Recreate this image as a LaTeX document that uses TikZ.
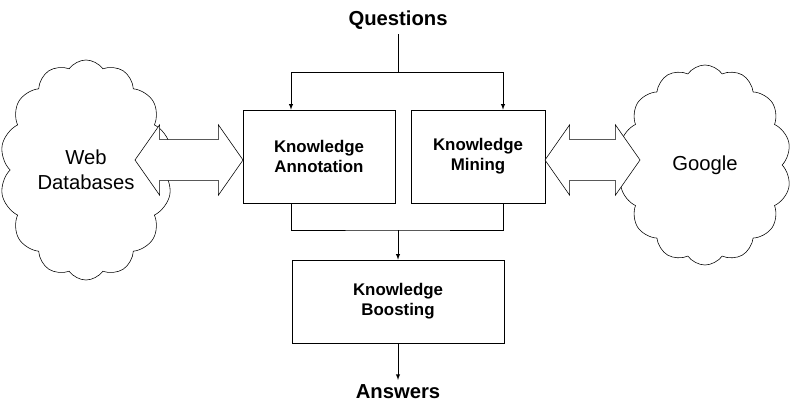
\documentclass[tikz,border=0pt]{standalone}
\usepackage{fontspec}
\setmainfont{Liberation Sans}
\usetikzlibrary{shapes.symbols, shapes.arrows, calc, positioning}

\begin{document}
\begin{tikzpicture}[x=0.025cm, y=-0.025cm, thin, > = latex]
    \tikzset{
      my box/.style={draw, align=center, font=\bfseries\large, inner sep=0pt},
      my cloud/.style={draw, cloud, cloud puffs=14, cloud puff arc=110, aspect=0.8,
        align=center, font=\Large, inner sep=0pt},
      my data arrow/.style={draw, fill=white, double arrow, inner sep=0pt, minimum width=1.75cm,
        double arrow head extend=0.375cm, double arrow tip angle=110,
        text height=1cm, text depth=0pt},
    }
    \useasboundingbox (0,0) rectangle (793,415);
    % Boxes
    \node (annot) [my box, minimum width=3.8cm, minimum height=2.325cm] at (319,156.5) {Knowledge\\Annotation};
    \node (mining) [my box, minimum width=3.35cm, minimum height=2.325cm] at (478,156.5) {Knowledge\\Mining};
    \node (boost) [my box, minimum width=5.3cm, minimum height=2.075cm] at (398,301.5) {Knowledge\\Boosting};
    \node (questions) [font=\bfseries\Large] at (398,20) {Questions};
    \node (answers) [font=\bfseries\Large] at (398,392) {Answers};
    % Clouds
    \node (web) [my cloud, minimum width=4.3cm, minimum height=5.5cm] at (86,170) {Web\\Databases};
    \node (google) [my cloud, minimum width=4.3cm, minimum height=5cm] at (705,165) {Google};
    % Lines
    \coordinate (split) at (398,72);
    \coordinate (join) at (398,230);
    \draw (questions.south) -- (split);
    \draw[->] (split) -| ($(annot.north)+(-28,0)$);
    \draw[->] (split) -| ($(mining.north)+(25,0)$);
    \draw ($(annot.south)+(-28,0)$) |- (join) -| ($(mining.south)+(25,0)$);
    \draw[->] (join) -- (boost.north);
    \draw[->] (boost.south) -- (answers.north);
    % Double arrows
    \node (webarrow) [my data arrow, minimum height=2.7cm] at (189,160) {};
    \node (googlearrow) [my data arrow, minimum height=2.375cm] at (592.5,160) {};
\end{tikzpicture}
\end{document}
